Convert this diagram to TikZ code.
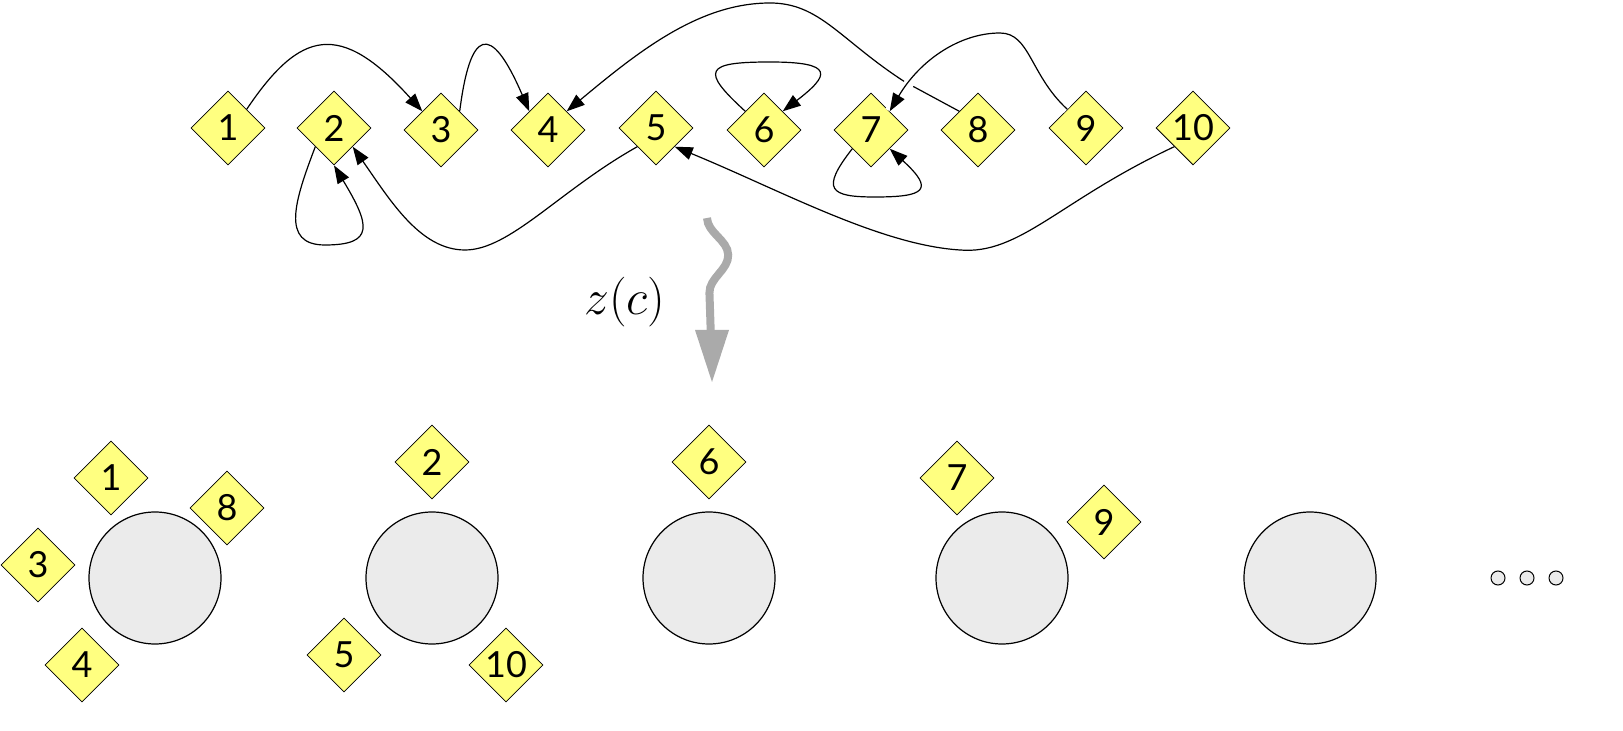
\documentclass[tikz,border=0pt]{standalone}
\usepackage{fontspec}
\setmainfont{Lato}
\usetikzlibrary{shapes.geometric,arrows.meta,decorations.pathmorphing}
\begin{document}
\begin{tikzpicture}[x=0.5pt,y=-0.5pt,
  dia/.style={diamond,draw=black,fill={rgb,255:red,255;green,255;blue,128},inner sep=0pt,minimum width=37pt,minimum height=37pt,font=\fontsize{18}{18}\selectfont},
  ed/.style={draw=black,line width=0.6pt,-{Triangle[length=9pt,width=6.5pt]}},
  ln/.style={draw=black,line width=0.6pt},
  blob/.style={circle,draw=black,fill={rgb,255:red,235;green,235;blue,235},minimum size=66pt,inner sep=0pt,line width=0.6pt},
  dot/.style={circle,draw=black,fill={rgb,255:red,235;green,235;blue,235},minimum size=7pt,inner sep=0pt,line width=0.5pt}]
\useasboundingbox (0,0) rectangle (1623,731);
% top nodes
\foreach \i/\x/\y in {1/228/128,2/334/128,3/441/130,4/548/130,5/656/128,6/764/130,7/871/130,8/978/130,9/1086/128,10/1193/128}
  \node[dia] (t\i) at (\x,\y) {\i};
% edges
\draw[ed] (t1.north east) .. controls (300,30) and (340,20) .. (t3.north west);
\draw[ed] (t3.north east) .. controls (470,30) and (490,20) .. (t4.north west);
\draw[ed] (t8.north west) -- (905,82) .. controls (840,40) and (820,3) .. (770,3) .. controls (700,3) and (640,50) .. (t4.north east);
\draw[ed,preaction={draw=white,line width=5pt,-}] (t9.north west) .. controls (1030,75) and (1030,33) .. (1000,33) .. controls (960,33) and (920,60) .. (t7.north east);
\draw[ed] (t6.north west) .. controls (700,70) and (705,62) .. (770,62) .. controls (835,62) and (830,75) .. (t6.north east);
\draw[ed] (t7.south west) .. controls (820,190) and (830,197) .. (875,197) .. controls (925,197) and (935,190) .. (t7.south east);
\draw[ed] (t2.south west) .. controls (295,200) and (280,245) .. (325,245) .. controls (375,245) and (370,225) .. (t2.south);
\draw[ed] (t5.south west) .. controls (560,190) and (510,250) .. (465,250) .. controls (420,250) and (390,200) .. (t2.south east);
\draw[ed] (t10.south west) .. controls (1060,200) and (1020,255) .. (960,250) .. controls (880,245) and (780,190) .. (t5.south east);
% wavy arrow
\coordinate (wa) at (707,218);
\coordinate (wb) at (711,340);
\coordinate (wt) at (712,382);
\draw[line width=4pt,draw={rgb,255:red,170;green,170;blue,170},decorate,decoration={snake,segment length=60,amplitude=10,post length=15}] (wa) -- (wb);
\draw[draw=none,fill={rgb,255:red,170;green,170;blue,170}] (695,330) -- (729,330) -- (wt) -- cycle;
\node[font=\fontsize{27}{27}\selectfont] (zc) at (625,302) {$z(c)$};
% bottom
\foreach \i/\x in {1/155,2/432,3/709,4/1002,5/1310}
  \node[blob] (c\i) at (\x,578) {};
\foreach \n/\t/\x/\y in {a/1/111/478,b/8/227/508,c/3/38/565,d/4/82/665,e/2/432/462,f/5/344/655,g/10/506/665,h/6/709/462,i/7/957/478,j/9/1104/522}
  \node[dia] (b\n) at (\x,\y) {\t};
\foreach \i/\x in {1/1498,2/1527,3/1556}
  \node[dot] (d\i) at (\x,578) {};
\end{tikzpicture}
\end{document}
